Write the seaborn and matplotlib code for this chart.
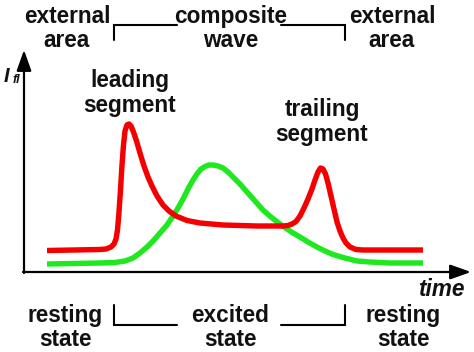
import matplotlib
matplotlib.use("Agg")
import matplotlib.pyplot as plt
import seaborn as sns
import pandas as pd

# Curve points (time position, signal position in image units)
red_x = [47, 100, 106, 111, 114, 116, 117.5, 119, 120.5, 122, 123.5, 125, 127, 129, 131, 133.5, 136.5,
         140, 144, 148, 152, 157, 163, 169, 176, 187, 200, 223, 257, 283, 288, 292, 296, 300, 304,
         308, 312, 315, 318, 320.5, 323, 325.5, 328, 331, 334, 337, 340, 343, 346, 350, 356, 363,
         390, 423]
red_y = [250.5, 249.5, 249, 247, 244, 239, 230, 212, 190, 165, 145, 131, 125, 124, 126, 132, 141,
         153, 166, 177, 186, 196, 205, 211, 216, 220.5, 223, 225, 226, 226, 225.5, 224, 221.5, 216, 208,
         199, 189, 180, 172, 168, 169, 174, 183, 196, 209, 222, 231, 238, 243, 247, 249.5, 250,
         250, 250]

green_x = [47, 100, 115, 125, 133, 140, 147, 154, 160, 167, 173, 178, 183, 188, 193, 197, 201, 205,
           209, 213, 218, 223, 228, 233, 240, 247, 255, 263, 271, 280, 287, 293, 300, 308, 317, 325,
           333, 345, 357, 370, 390, 423]
green_y = [264, 263, 262.5, 261, 258, 253, 247, 240, 233, 225, 216, 208, 199, 189, 180, 174, 169, 166.5,
           165, 165, 166, 168, 172, 177, 184, 192, 201, 210, 217, 224, 229, 233, 237, 242, 247, 251,
           254.5, 258, 261, 262, 263, 263]

top_labels = [("external", "area"), ("composite", "wave"), ("external", "area")]
top_centers = [67, 231, 392]
bottom_labels = [("resting", "state"), ("excited", "state"), ("resting", "state")]
bottom_centers = [65, 230, 403]
peak_labels = [("leading", "segment"), ("trailing", "segment")]
peak_centers = [130, 322]

sns.set_theme(style="white")
plt.rcParams["font.family"] = ["Liberation Sans", "DejaVu Sans"]

fig = plt.figure(figsize=(4.74, 3.52), dpi=100)
ax = fig.add_axes([0, 0, 1, 1])

red_df = pd.DataFrame({"t": red_x, "v": red_y})
green_df = pd.DataFrame({"t": green_x, "v": green_y})
sns.lineplot(data=green_df, x="t", y="v", sort=False, estimator=None, ax=ax,
             color="#1ee81e", linewidth=3.9, solid_joinstyle="round", solid_capstyle="butt")
sns.lineplot(data=red_df, x="t", y="v", sort=False, estimator=None, ax=ax,
             color="#f50000", linewidth=3.9, solid_joinstyle="round", solid_capstyle="butt")
ax.set_xlim(0, 474)
ax.set_ylim(352, 0)
ax.axis("off")

# axes arrows
arrow_kw = dict(arrowstyle="-|>,head_length=0.9,head_width=0.32", color="black", lw=1.6,
                shrinkA=0, shrinkB=0, mutation_scale=14)
ax.annotate("", xy=(24, 50), xytext=(24, 273), arrowprops=arrow_kw)
ax.annotate("", xy=(471, 272), xytext=(23, 272), arrowprops=arrow_kw)

# brackets
bk = dict(color="black", lw=1.5, solid_joinstyle="miter")
ax.plot([114, 114, 177], [40, 25, 25], **bk)
ax.plot([281, 345, 345], [25, 25, 40], **bk)
ax.plot([114, 114, 177], [305, 325, 325], **bk)
ax.plot([281, 345, 345], [325, 325, 305], **bk)

fs = 16.3
tk = dict(fontsize=fs, fontweight="bold", ha="center", va="baseline", color="#111111")
for (l1, l2), cx in zip(top_labels, top_centers):
    ax.text(cx, 23, l1, **tk)
    ax.text(cx, 47, l2, **tk)
for (l1, l2), cx in zip(bottom_labels, bottom_centers):
    ax.text(cx, 322, l1, **tk)
    ax.text(cx, 346, l2, **tk)
for (l1, l2), cx, b in zip(peak_labels, peak_centers, [87, 116]):
    ax.text(cx, b, l1, **tk)
    ax.text(cx, b + 25, l2, **tk)

ax.text(465, 296, "time", fontsize=fs, fontweight="bold", fontstyle="italic",
        ha="right", va="baseline", color="#111111")
ax.text(4, 82, "I", fontsize=14.5, fontweight="bold", fontstyle="italic",
        ha="left", va="baseline", color="#111111")
ax.text(12.5, 83, "fl", fontsize=9, fontweight="bold", fontstyle="italic",
        ha="left", va="baseline", color="#111111")

fig.savefig("out.png", dpi=100)
